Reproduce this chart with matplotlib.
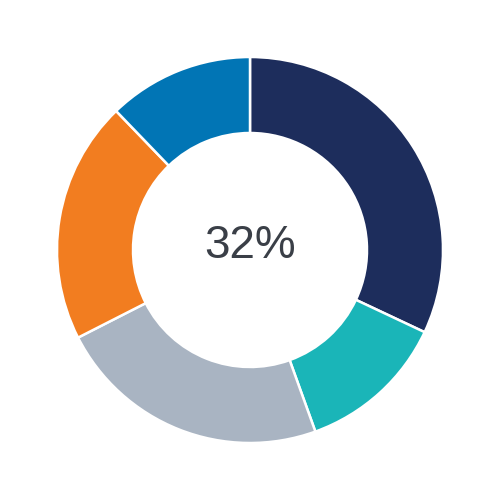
import matplotlib.pyplot as plt

labels = ['Navy', 'Teal', 'Gray', 'Orange', 'Blue']
values = [32, 12.5, 23, 20.3, 12.2]
colors = ['#1d2d5c', '#1ab5b8', '#a9b4c2', '#f27d20', '#0175b5']
center_text = '32%'

fig = plt.figure(figsize=(5, 5), dpi=100)
ax = fig.add_axes([0, 0, 1, 1])
ax.pie(values, colors=colors, startangle=90, counterclock=False, radius=1,
       wedgeprops=dict(width=76 / 193, edgecolor='white', linewidth=1.8))
lim = 250 / 193
ax.set_xlim(-lim, lim)
ax.set_ylim(-lim, lim)
ax.text(0, 0.02, center_text, ha='center', va='center', fontsize=33,
        family='Liberation Sans', color='#3a3f47')
ax.axis('off')
fig.savefig('out.png', dpi=100, facecolor='white')
